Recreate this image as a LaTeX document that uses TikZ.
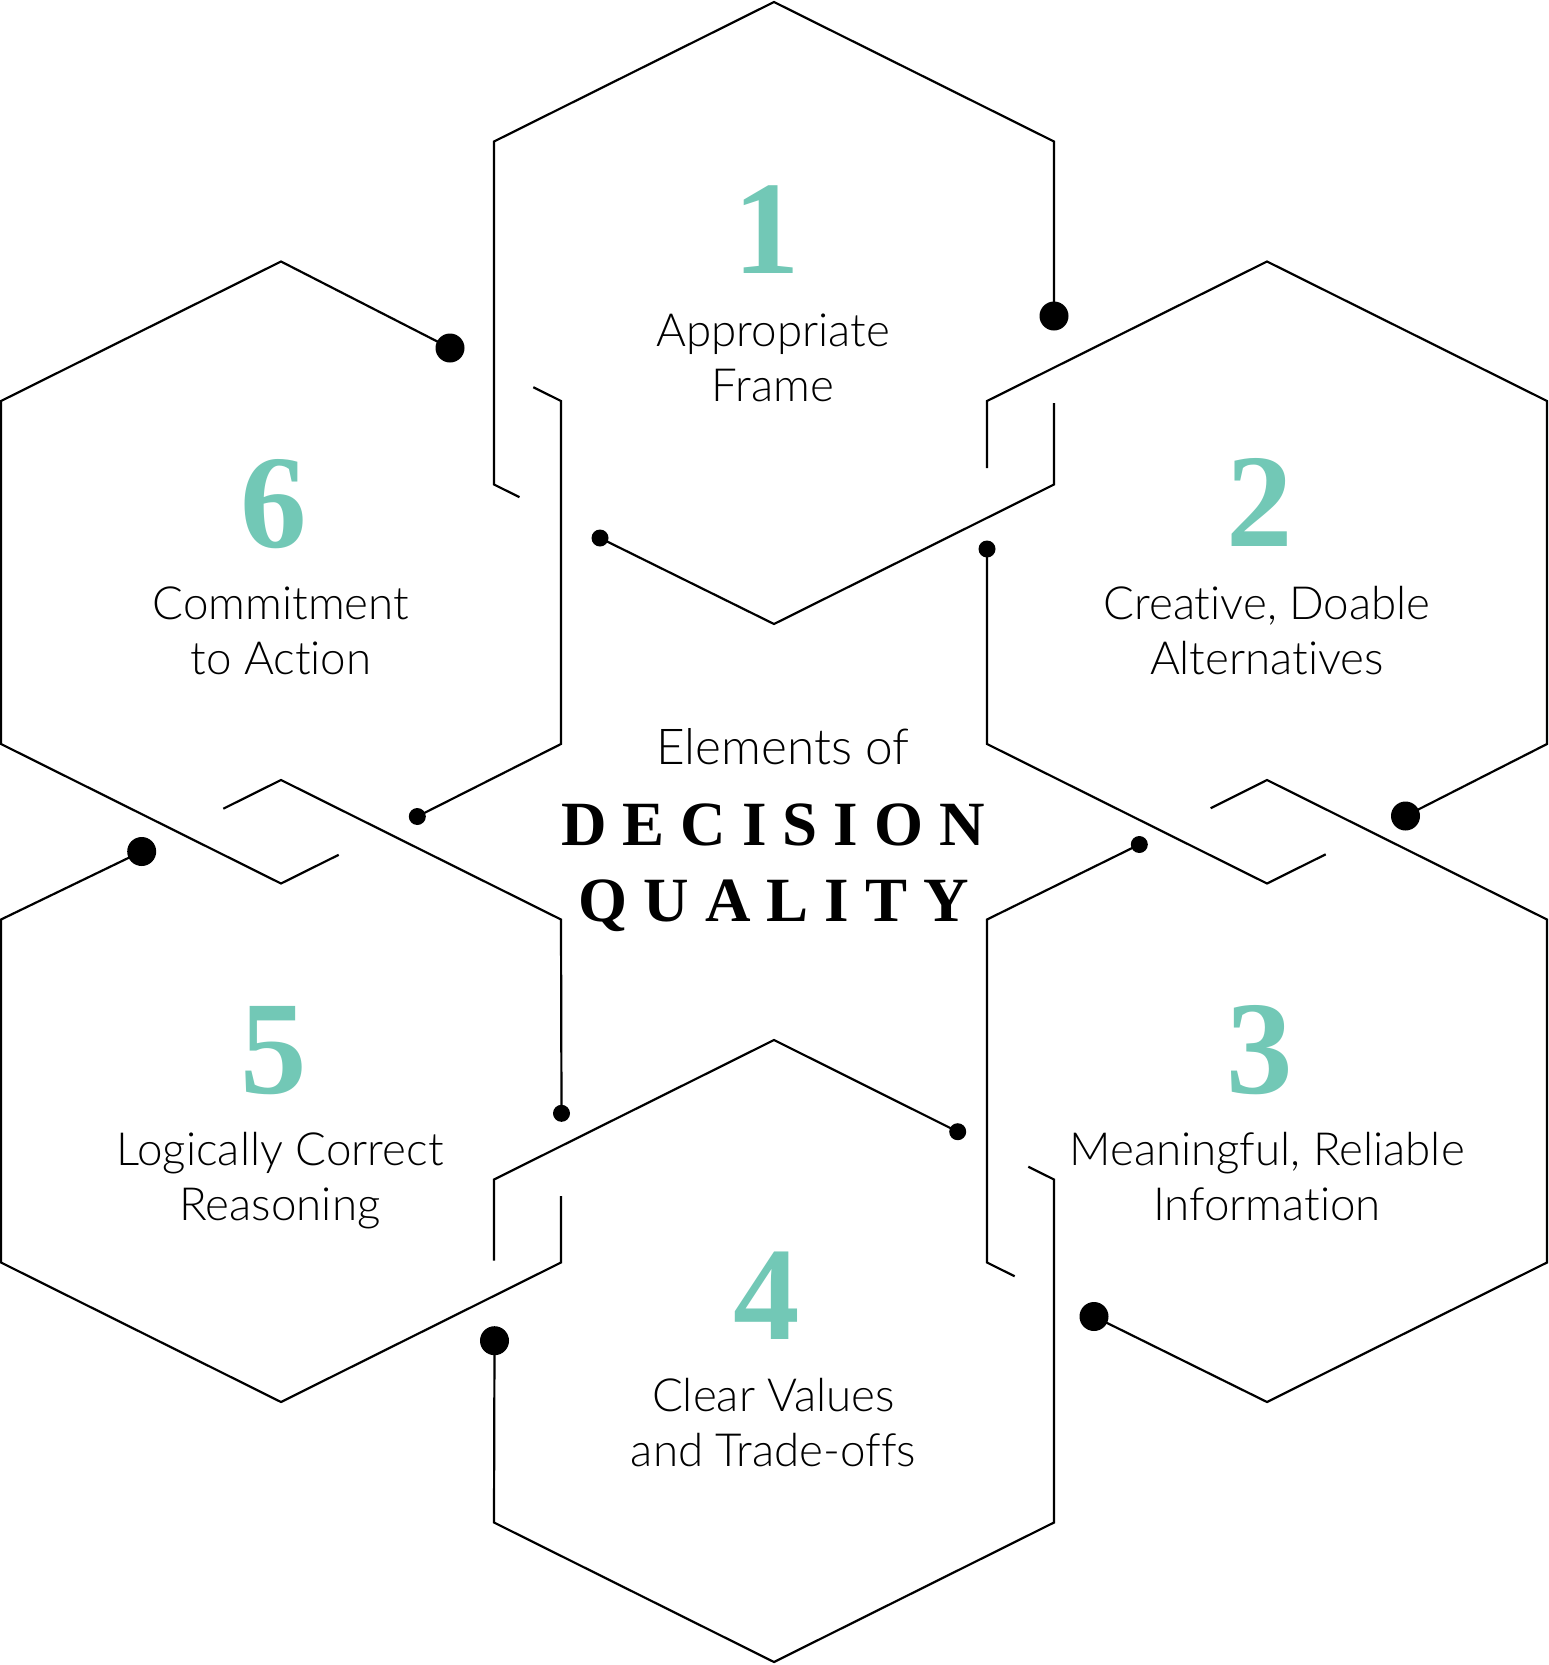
\documentclass[tikz,border=0pt]{standalone}
\usepackage{fontspec}
\IfFontExistsTF{Lato Light}{\newfontfamily\lblfont{Lato Light}[Ligatures=NoCommon]}{\newfontfamily\lblfont{TeX Gyre Heros}}
\newfontfamily\serifbold{Liberation Serif Bold}
\definecolor{dqteal}{RGB}{114,200,182}
\newcommand\tk{\kern16pt}
\newcommand\hexat[3]{%
  \coordinate (#1T)  at (#2,#3);
  \coordinate (#1UR) at (#2+280,#3+139.5);
  \coordinate (#1LR) at (#2+280,#3+482.5);
  \coordinate (#1B)  at (#2,#3+622);
  \coordinate (#1LL) at (#2-280,#3+482.5);
  \coordinate (#1UL) at (#2-280,#3+139.5);
}
\begin{document}
\begin{tikzpicture}[x=1pt,y=-1pt,
  edge/.style={draw=black,line width=2.2pt},
  bigdot/.style={circle,fill=black,inner sep=0pt,minimum size=29pt},
  smalldot/.style={circle,fill=black,inner sep=0pt,minimum size=17pt},
  num/.style={text=dqteal,font=\serifbold\fontsize{133}{133}\selectfont,anchor=base,inner sep=0pt},
  lbl/.style={font=\lblfont\fontsize{45.7}{55}\selectfont,anchor=base,inner sep=0pt},
  ttl/.style={font=\serifbold\fontsize{63}{76}\selectfont,anchor=base,inner sep=0pt}]
\useasboundingbox (0,0) rectangle (1548,1665);
\fill[white] (0,0) rectangle (1548,1665);

\hexat{h1}{774}{2}
\hexat{h2}{1267}{261.5}
\hexat{h3}{1267}{780}
\hexat{h4}{774}{1040}
\hexat{h5}{281}{780}
\hexat{h6}{281}{261.5}

% dots
\node[bigdot]   (d1a) at (1054,316) {};
\node[smalldot] (d1b) at (600,538) {};
\node[bigdot]   (d2a) at (1405.5,816) {};
\node[smalldot] (d2b) at (987,549) {};
\node[bigdot]   (d3a) at (1094,1316.5) {};
\node[smalldot] (d3b) at (1139.3,844.5) {};
\node[smalldot] (d4a) at (957.7,1131.7) {};
\node[bigdot]   (d4b) at (494.5,1340.7) {};
\node[smalldot] (d5a) at (561.5,1113.3) {};
\node[bigdot]   (d5b) at (141.7,851.5) {};
\node[bigdot]   (d6a) at (450,348) {};
\node[smalldot] (d6b) at (417.3,816.5) {};

% free ends
\coordinate (e1a) at (519.5,497.2);
\coordinate (e1b) at (1054,403);
\coordinate (e2a) at (987,468);
\coordinate (e2b) at (1325.7,854.3);
\coordinate (e3a) at (1210.7,808.2);
\coordinate (e3b) at (1014.7,1276.3);
\coordinate (e4a) at (494,1260.7);
\coordinate (e4b) at (1028.3,1166.7);
\coordinate (e5a) at (223.3,808.7);
\coordinate (e5b) at (561,1196);
\coordinate (e6a) at (338.7,854.8);
\coordinate (e6b) at (533.3,387.2);

% hexagon 1
\draw[edge] (e1a) -- (h1LL) -- (h1UL) -- (h1T) -- (h1UR) -- (d1a.center);
\draw[edge] (e1b) -- (h1LR) -- (h1B) -- (d1b.center);
% hexagon 2
\draw[edge] (e2a) -- (h2UL) -- (h2T) -- (h2UR) -- (h2LR) -- (d2a.center);
\draw[edge] (d2b.center) -- (h2LL) -- (h2B) -- (e2b);
% hexagon 3
\draw[edge] (e3a) -- (h3T) -- (h3UR) -- (h3LR) -- (h3B) -- (d3a.center);
\draw[edge] (d3b.center) -- (h3UL) -- (h3LL) -- (e3b);
% hexagon 4
\draw[edge] (d4a.center) -- (h4T) -- (h4UL) -- (e4a);
\draw[edge] (e4b) -- (h4UR) -- (h4LR) -- (h4B) -- (h4LL) -- (d4b.center);
% hexagon 5
\draw[edge] (e5a) -- (h5T) -- (h5UR) -- (d5a.center);
\draw[edge] (d5b.center) -- (h5UL) -- (h5LL) -- (h5B) -- (h5LR) -- (e5b);
% hexagon 6
\draw[edge] (d6a.center) -- (h6T) -- (h6UL) -- (h6LL) -- (h6B) -- (e6a);
\draw[edge] (e6b) -- (h6UR) -- (h6LR) -- (d6b.center);

% numbers
\node[num] (n1) at (767,273) {1};
\node[num] (n2) at (1260,546) {2};
\node[num] (n3) at (1260,1093) {3};
\node[num] (n4) at (767,1339) {4};
\node[num] (n5) at (274,1093) {5};
\node[num] (n6) at (274,547) {6};

% labels
\node[lbl] (l1a) at (773,346.7) {Appropriate};
\node[lbl] (l1b) at (773,401.7) {Frame};
\node[lbl] (l2a) at (1267,619.3) {Creative, Doable};
\node[lbl] (l2b) at (1267,674.3) {Alternatives};
\node[lbl] (l3a) at (1267,1165.7) {Meaningful, Reliable};
\node[lbl] (l3b) at (1267,1220.7) {Information};
\node[lbl] (l4a) at (773.5,1411.7) {Clear Values};
\node[lbl] (l4b) at (773.5,1466.7) {and Trade-offs};
\node[lbl] (l5a) at (280,1165.7) {Logically Correct};
\node[lbl] (l5b) at (280,1220.7) {Reasoning};
\node[lbl] (l6a) at (281,619.3) {Commitment};
\node[lbl] (l6b) at (281,674.3) {to Action};

% centre title
\node[lbl,font=\lblfont\fontsize{49.5}{55}\selectfont] (el) at (783,764) {Elements of};
\node[ttl] (dq1) at (773,845.7) {D\tk E\tk C\tk I\tk S\tk I\tk O\tk N};
\node[ttl] (dq2) at (774,921.7) {Q\tk U\tk A\tk L\tk I\tk T\tk Y};
\end{tikzpicture}
\end{document}
